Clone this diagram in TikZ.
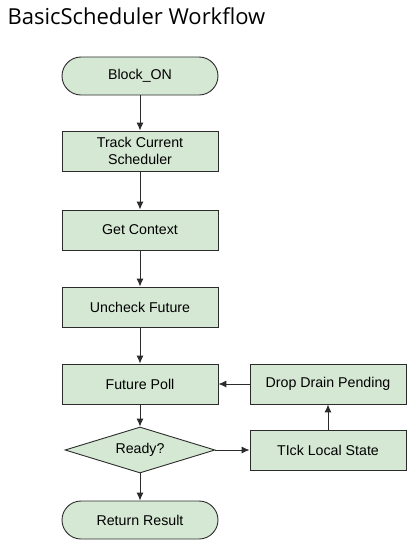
\documentclass[tikz,border=0pt]{standalone}
\usepackage{fontspec}
\setmainfont{Liberation Sans}
\newfontfamily\titlefont{Open Sans}
\usetikzlibrary{shapes.geometric,arrows.meta}
\definecolor{boxgreen}{HTML}{D5E8D4}
\definecolor{edgegray}{HTML}{2B2B2B}

\begin{document}
\begin{tikzpicture}[x=1pt,y=1pt,
		box/.style={draw=edgegray,fill=boxgreen,line width=0.9pt,minimum width=156pt,minimum height=40pt,inner sep=2pt,align=center,font=\fontsize{14.2}{16.5}\selectfont},
		term/.style={box,rounded corners=19pt,minimum height=38pt},
		decide/.style={draw=edgegray,fill=boxgreen,line width=0.9pt,diamond,aspect=3.26,inner sep=0pt,minimum width=150pt,minimum height=46pt,font=\fontsize{14.2}{16.5}\selectfont},
		flow/.style={draw=edgegray,line width=1pt,-{Latex[length=8pt,width=7pt]}}]
			\useasboundingbox (0,0) rectangle (420,-552);
			\node [anchor=base west,font=\titlefont\fontsize{22}{26}\selectfont] (title) at (4,-24) {BasicScheduler Workflow};
			\node [term] (blockon) at (140,-76) {Block\_ON};
			\node [box] (track) at (140,-151) {Track Current\\Scheduler};
			\node [box] (context) at (140,-230) {Get Context};
			\node [box] (uncheck) at (140,-307) {Uncheck Future};
			\node [box] (poll) at (140,-384) {Future Poll};
			\node [decide] (ready) at (140,-450) {Ready?};
			\node [term] (result) at (140,-520) {Return Result};
			\node [box] (drop) at (328,-384) {Drop Drain Pending};
			\node [box] (tick) at (328,-450) {TIck Local State};
			\draw [flow] (blockon) -- (track);
			\draw [flow] (track) -- (context);
			\draw [flow] (context) -- (uncheck);
			\draw [flow] (uncheck) -- (poll);
			\draw [flow] (poll) -- (ready);
			\draw [flow] (ready) -- (result);
			\draw [flow] (ready) -- (tick);
			\draw [flow] (tick) -- (drop);
			\draw [flow] (drop) -- (poll);
\end{tikzpicture}
\end{document}
